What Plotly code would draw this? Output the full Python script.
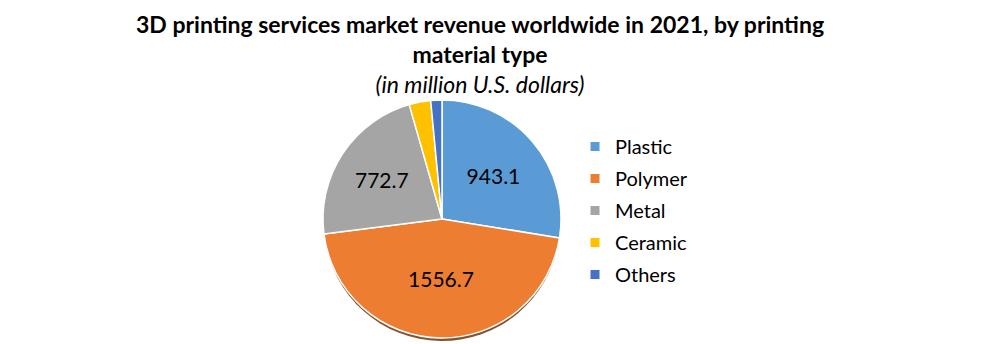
import plotly.graph_objects as go

categories = ["Plastic", "Polymer", "Metal", "Ceramic", "Others"]
revenue = [943.1, 1556.7, 772.7, 100.0, 52.0]
shown_labels = [True, True, True, False, False]
colors = ["#5B9BD5", "#ED7D31", "#A5A5A5", "#FFC000", "#4472C4"]

W, H = 989, 344
cx, cy, r = 442, 219, 119

def dom(cx, cy, r):
    return dict(x=[(cx - r) / W, (cx + r) / W],
                y=[(H - cy - r) / H, (H - cy + r) / H])

fig = go.Figure()

# soft drop shadow under the pie
fig.add_trace(go.Pie(
    labels=categories, values=revenue, sort=False, direction="clockwise",
    rotation=0, domain=dom(cx, cy + 4, r - 1),
    marker=dict(colors=["rgba(110,55,15,0.85)"] * len(categories), line=dict(width=0)),
    textinfo="none", hoverinfo="skip", showlegend=False,
))

fig.add_trace(go.Pie(
    labels=categories, values=revenue, sort=False, direction="clockwise",
    rotation=0, domain=dom(cx, cy, r),
    marker=dict(colors=colors, line=dict(color="white", width=1.5)),
    texttemplate=["%{value:.1f}" if s else "" for s in shown_labels],
    textposition="inside", insidetextorientation="horizontal",
    textfont=dict(family="Lato", size=21, color="black"),
    showlegend=False,
))

# legend entries (one per category)
for name, col in zip(categories, colors):
    fig.add_trace(go.Scatter(
        x=[None], y=[None], mode="markers", name=name, legendgroup=name,
        marker=dict(symbol="square", size=9, color=col),
    ))

fig.update_layout(
    width=W, height=H,
    margin=dict(l=0, r=0, t=0, b=0),
    paper_bgcolor="white", plot_bgcolor="white",
    xaxis=dict(visible=False), yaxis=dict(visible=False),
    annotations=[dict(
        text="<b>3D printing services market revenue worldwide in 2021, by printing<br>material type</b><br><i>(in million U.S. dollars)</i>",
        x=480 / W, xanchor="center", y=1 - 8 / H, yanchor="top",
        xref="paper", yref="paper", showarrow=False,
        font=dict(family="Lato", size=23, color="black"),
    )],
    legend=dict(
        x=575 / W, xanchor="left", y=1 - 127 / H, yanchor="top",
        font=dict(family="Lato", size=20, color="black"),
        tracegroupgap=3, bgcolor="rgba(0,0,0,0)",
    ),
)

fig.write_html("out.html")
